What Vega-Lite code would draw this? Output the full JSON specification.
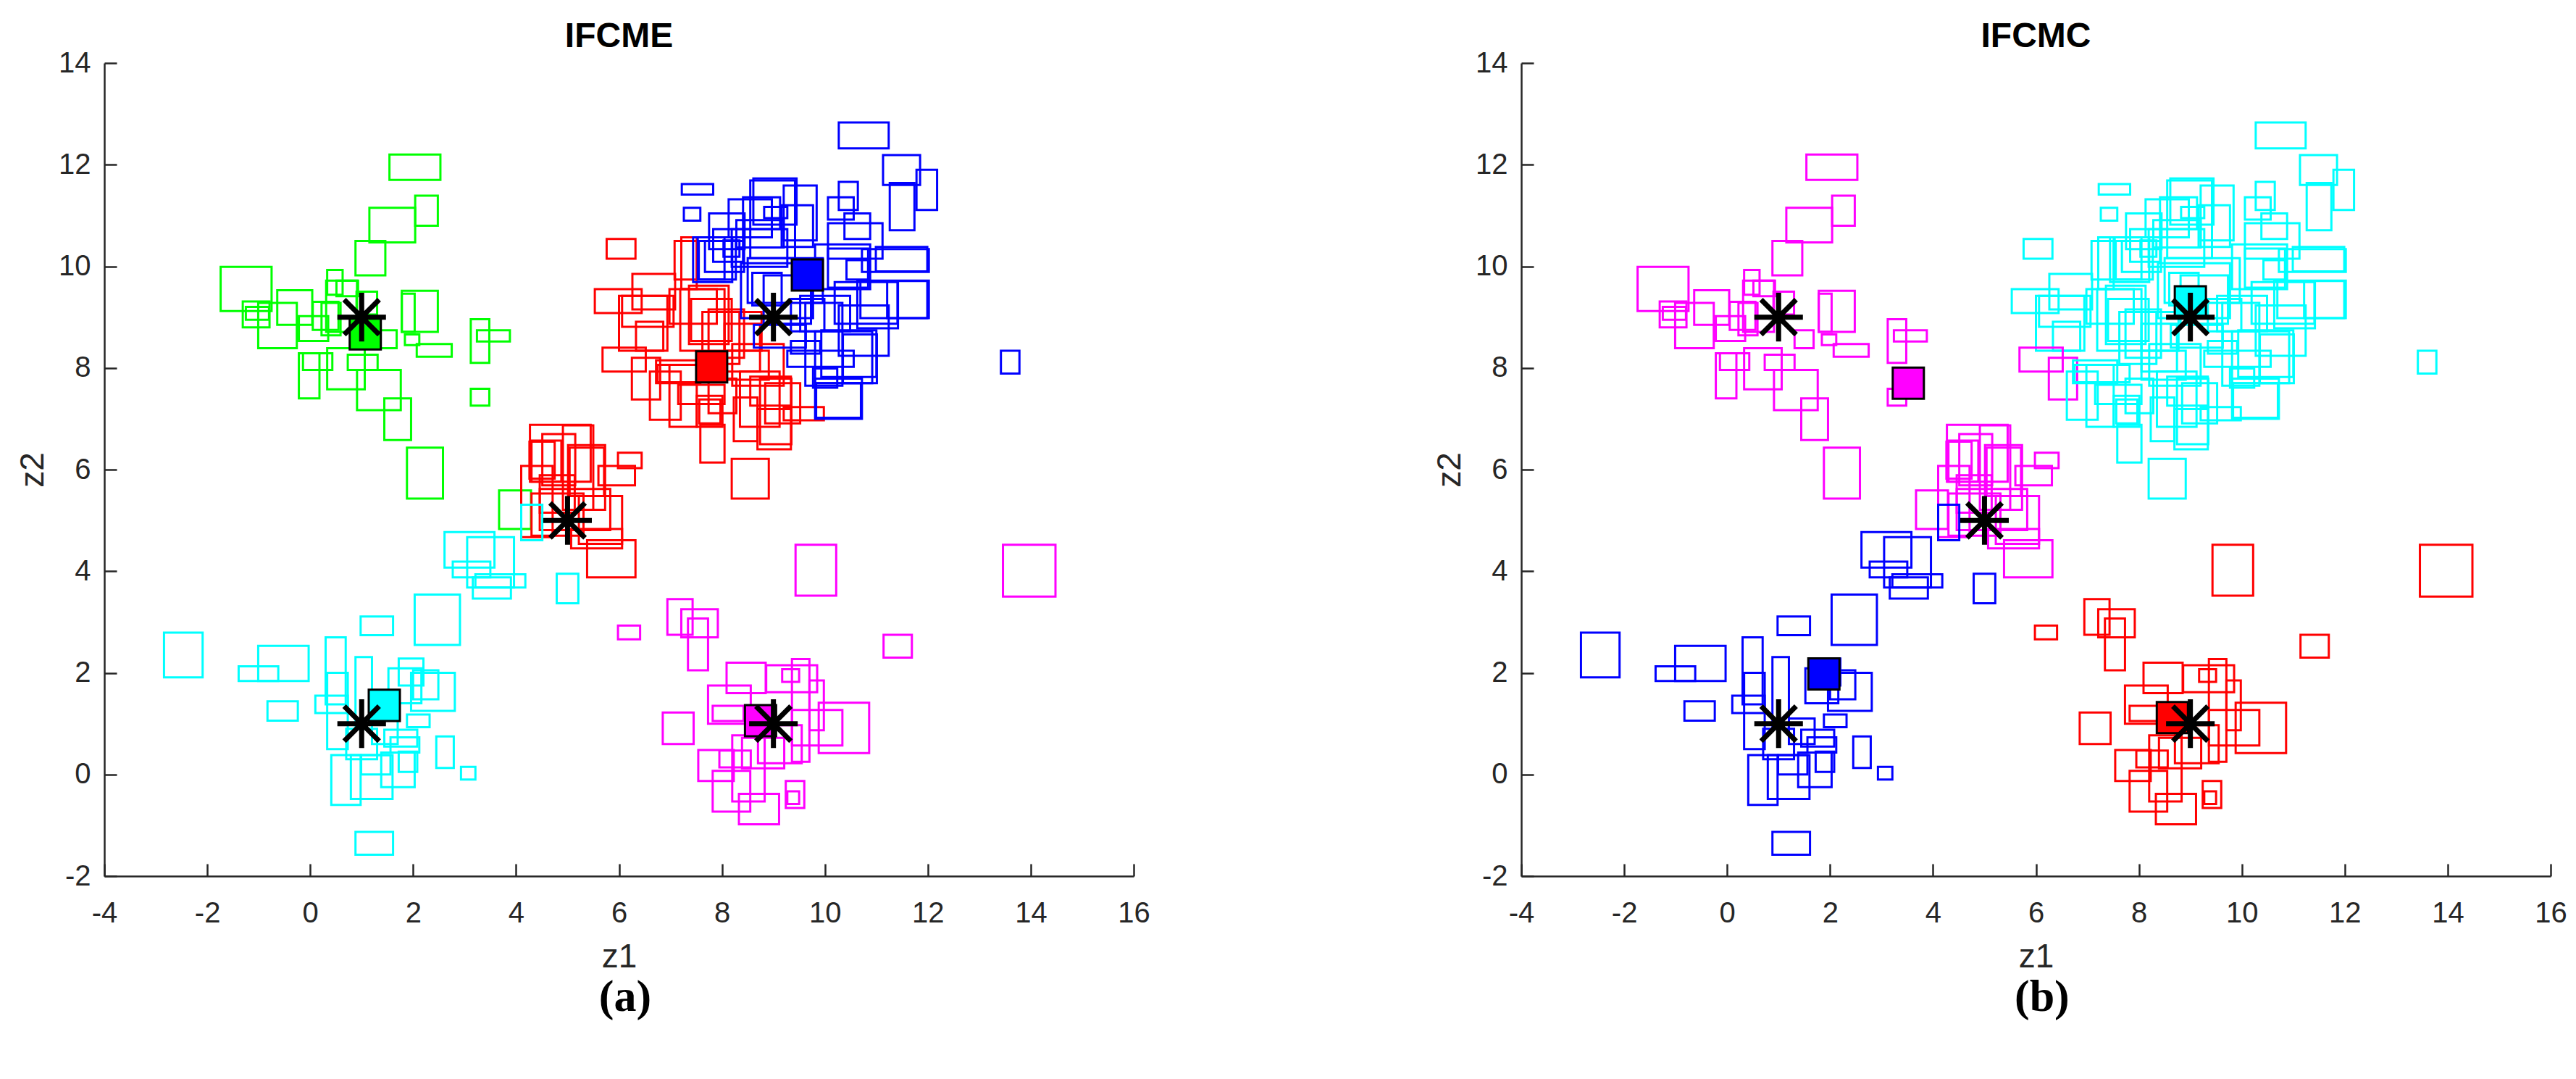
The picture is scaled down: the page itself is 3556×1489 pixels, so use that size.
{
  "$schema": "https://vega.github.io/schema/vega-lite/v6.json",
  "background": "white",
  "padding": {"left": 22, "top": 27, "right": 10, "bottom": 10},
  "config": {
    "view": {"stroke": null},
    "axis": {"grid": false, "domainColor": "#262626", "domainWidth": 2.5, "tickColor": "#262626", "tickWidth": 2.5, "tickSize": -17,
      "labelFont": "Liberation Sans", "labelFontSize": 40, "labelColor": "#262626", "labelFlush": false, "labelOverlap": false, "labelBound": false,
      "labelExpr": "'' + datum.value",
      "titleFont": "Liberation Sans", "titleFontSize": 46, "titleFontWeight": "normal", "titleColor": "#262626"},
    "axisX": {"labelPadding": 48, "titlePadding": 18},
    "axisY": {"labelPadding": 36, "titlePadding": 11}
  },
  "datasets": {
    "boxes": [
      {"x1":1.54,"x2":2.53,"y1":11.7,"y2":12.2,"a":1,"b":1},
      {"x1":2.04,"x2":2.48,"y1":10.8,"y2":11.39,"a":1,"b":1},
      {"x1":1.15,"x2":2.04,"y1":10.47,"y2":11.15,"a":1,"b":1},
      {"x1":0.88,"x2":1.46,"y1":9.82,"y2":10.5,"a":1,"b":1},
      {"x1":-1.74,"x2":-0.75,"y1":9.12,"y2":9.99,"a":1,"b":1},
      {"x1":-1.31,"x2":-0.79,"y1":8.8,"y2":9.31,"a":1,"b":1},
      {"x1":-0.64,"x2":0.04,"y1":8.85,"y2":9.53,"a":1,"b":1},
      {"x1":-1.01,"x2":-0.26,"y1":8.39,"y2":9.28,"a":1,"b":1},
      {"x1":-0.22,"x2":0.35,"y1":8.53,"y2":9.02,"a":1,"b":1},
      {"x1":0.31,"x2":0.91,"y1":8.71,"y2":9.72,"a":1,"b":1},
      {"x1":0.33,"x2":0.63,"y1":9.44,"y2":9.93,"a":1,"b":1},
      {"x1":0.51,"x2":0.93,"y1":9.41,"y2":9.72,"a":1,"b":1},
      {"x1":0.22,"x2":0.59,"y1":8.64,"y2":9.28,"a":1,"b":1},
      {"x1":1.31,"x2":1.68,"y1":8.39,"y2":8.74,"a":1,"b":1},
      {"x1":1.78,"x2":2.03,"y1":8.71,"y2":9.46,"a":1,"b":1},
      {"x1":1.78,"x2":2.48,"y1":8.71,"y2":9.52,"a":1,"b":1},
      {"x1":1.84,"x2":2.12,"y1":8.45,"y2":8.66,"a":1,"b":1},
      {"x1":2.07,"x2":2.75,"y1":8.22,"y2":8.47,"a":1,"b":1},
      {"x1":3.12,"x2":3.48,"y1":8.1,"y2":8.96,"a":1,"b":1},
      {"x1":3.24,"x2":3.88,"y1":8.52,"y2":8.74,"a":1,"b":1},
      {"x1":3.12,"x2":3.48,"y1":7.26,"y2":7.59,"a":1,"b":1},
      {"x1":-0.22,"x2":0.18,"y1":7.4,"y2":8.29,"a":1,"b":1},
      {"x1":-0.14,"x2":0.43,"y1":7.96,"y2":8.29,"a":1,"b":1},
      {"x1":0.33,"x2":1.06,"y1":7.58,"y2":8.39,"a":1,"b":1},
      {"x1":0.73,"x2":1.31,"y1":7.96,"y2":8.26,"a":1,"b":1},
      {"x1":0.91,"x2":1.76,"y1":7.17,"y2":7.96,"a":1,"b":1},
      {"x1":1.44,"x2":1.96,"y1":6.58,"y2":7.4,"a":1,"b":1},
      {"x1":1.88,"x2":2.58,"y1":5.43,"y2":6.43,"a":1,"b":1},
      {"x1":3.67,"x2":4.29,"y1":4.83,"y2":5.59,"a":1,"b":1},
      {"x1":-1.25,"x2":-0.8,"y1":8.95,"y2":9.2,"a":1,"b":1},
      {"x1":0.9,"x2":1.3,"y1":9.05,"y2":9.5,"a":1,"b":1},
      {"x1":0.05,"x2":0.55,"y1":8.75,"y2":9.3,"a":1,"b":1},
      {"x1":4.27,"x2":5.45,"y1":5.76,"y2":6.88,"a":2,"b":1},
      {"x1":4.91,"x2":5.5,"y1":5.21,"y2":6.87,"a":2,"b":1},
      {"x1":4.3,"x2":4.88,"y1":5.76,"y2":6.57,"a":2,"b":1},
      {"x1":5.04,"x2":5.71,"y1":5.48,"y2":6.43,"a":2,"b":1},
      {"x1":5.98,"x2":6.44,"y1":6.03,"y2":6.33,"a":2,"b":1},
      {"x1":5.6,"x2":6.31,"y1":5.69,"y2":6.07,"a":2,"b":1},
      {"x1":4.1,"x2":4.71,"y1":4.67,"y2":6.07,"a":2,"b":1},
      {"x1":4.46,"x2":5.83,"y1":4.81,"y2":5.62,"a":2,"b":1},
      {"x1":5.22,"x2":6.06,"y1":4.54,"y2":5.48,"a":2,"b":1},
      {"x1":5.07,"x2":6.06,"y1":4.45,"y2":4.83,"a":2,"b":1},
      {"x1":5.38,"x2":6.32,"y1":3.88,"y2":4.61,"a":2,"b":1},
      {"x1":4.46,"x2":5.14,"y1":5.15,"y2":5.89,"a":2,"b":1},
      {"x1":5.01,"x2":5.73,"y1":5.21,"y2":6.48,"a":2,"b":1},
      {"x1":4.51,"x2":5.15,"y1":5.69,"y2":6.7,"a":2,"b":1},
      {"x1":4.26,"x2":4.75,"y1":5.82,"y2":6.55,"a":2,"b":1},
      {"x1":4.3,"x2":5.31,"y1":4.7,"y2":5.53,"a":2,"b":1},
      {"x1":5.76,"x2":6.32,"y1":10.15,"y2":10.54,"a":2,"b":2},
      {"x1":5.53,"x2":6.44,"y1":9.08,"y2":9.55,"a":2,"b":2},
      {"x1":6.06,"x2":7.06,"y1":8.81,"y2":9.42,"a":2,"b":2},
      {"x1":6.26,"x2":7.09,"y1":9.15,"y2":9.85,"a":2,"b":2},
      {"x1":6.0,"x2":6.94,"y1":8.34,"y2":9.42,"a":2,"b":2},
      {"x1":6.33,"x2":6.86,"y1":8.34,"y2":8.91,"a":2,"b":2},
      {"x1":5.68,"x2":6.52,"y1":7.93,"y2":8.4,"a":2,"b":1},
      {"x1":6.25,"x2":6.8,"y1":7.38,"y2":8.2,"a":2,"b":1},
      {"x1":6.72,"x2":7.58,"y1":7.7,"y2":8.15,"a":2,"b":2},
      {"x1":6.98,"x2":7.51,"y1":6.84,"y2":8.06,"a":2,"b":2},
      {"x1":6.75,"x2":7.82,"y1":7.72,"y2":8.06,"a":2,"b":2},
      {"x1":7.08,"x2":7.51,"y1":9.74,"y2":10.5,"a":2,"b":2},
      {"x1":7.21,"x2":7.51,"y1":9.55,"y2":10.57,"a":2,"b":2},
      {"x1":7.19,"x2":8.05,"y1":8.34,"y2":9.55,"a":2,"b":2},
      {"x1":7.4,"x2":8.19,"y1":8.53,"y2":9.36,"a":2,"b":2},
      {"x1":7.62,"x2":8.34,"y1":8.08,"y2":9.1,"a":2,"b":2},
      {"x1":8.05,"x2":8.77,"y1":8.34,"y2":9.1,"a":2,"b":2},
      {"x1":7.36,"x2":8.13,"y1":8.47,"y2":9.62,"a":2,"b":2},
      {"x1":7.74,"x2":8.43,"y1":8.2,"y2":9.15,"a":2,"b":2},
      {"x1":8.05,"x2":8.74,"y1":7.93,"y2":8.87,"a":2,"b":2},
      {"x1":8.2,"x2":9.2,"y1":7.65,"y2":8.47,"a":2,"b":2},
      {"x1":7.15,"x2":8.05,"y1":7.29,"y2":7.67,"a":2,"b":2},
      {"x1":7.51,"x2":8.01,"y1":6.84,"y2":7.45,"a":2,"b":2},
      {"x1":7.58,"x2":8.05,"y1":6.14,"y2":6.88,"a":2,"b":2},
      {"x1":8.23,"x2":8.69,"y1":6.56,"y2":7.42,"a":2,"b":2},
      {"x1":8.69,"x2":9.34,"y1":6.4,"y2":7.19,"a":2,"b":2},
      {"x1":8.84,"x2":9.52,"y1":6.91,"y2":7.7,"a":2,"b":2},
      {"x1":8.19,"x2":8.91,"y1":5.43,"y2":6.21,"a":2,"b":2},
      {"x1":9.2,"x2":9.98,"y1":6.97,"y2":7.23,"a":2,"b":2},
      {"x1":8.55,"x2":9.34,"y1":7.26,"y2":7.83,"a":2,"b":2},
      {"x1":8.05,"x2":8.91,"y1":7.77,"y2":8.34,"a":2,"b":2},
      {"x1":7.74,"x2":8.28,"y1":7.11,"y2":7.79,"a":2,"b":2},
      {"x1":7.56,"x2":7.97,"y1":6.91,"y2":7.38,"a":2,"b":2},
      {"x1":8.74,"x2":9.35,"y1":6.5,"y2":7.79,"a":2,"b":2},
      {"x1":8.35,"x2":9.12,"y1":6.84,"y2":7.93,"a":2,"b":2},
      {"x1":6.6,"x2":7.2,"y1":6.98,"y2":7.93,"a":2,"b":2},
      {"x1":6.98,"x2":7.9,"y1":8.87,"y2":9.55,"a":2,"b":2},
      {"x1":10.27,"x2":11.24,"y1":12.32,"y2":12.83,"a":3,"b":2},
      {"x1":11.13,"x2":11.85,"y1":11.6,"y2":12.19,"a":3,"b":2},
      {"x1":11.78,"x2":12.18,"y1":11.11,"y2":11.9,"a":3,"b":2},
      {"x1":11.26,"x2":11.74,"y1":10.71,"y2":11.64,"a":3,"b":2},
      {"x1":7.22,"x2":7.83,"y1":11.41,"y2":11.62,"a":3,"b":2},
      {"x1":7.26,"x2":7.58,"y1":10.9,"y2":11.15,"a":3,"b":2},
      {"x1":8.61,"x2":9.45,"y1":10.82,"y2":11.73,"a":3,"b":2},
      {"x1":9.2,"x2":9.84,"y1":10.51,"y2":11.59,"a":3,"b":2},
      {"x1":10.27,"x2":10.64,"y1":11.11,"y2":11.66,"a":3,"b":2},
      {"x1":10.06,"x2":10.56,"y1":10.92,"y2":11.36,"a":3,"b":2},
      {"x1":7.75,"x2":8.44,"y1":10.34,"y2":11.04,"a":3,"b":2},
      {"x1":8.41,"x2":9.13,"y1":10.73,"y2":11.36,"a":3,"b":2},
      {"x1":8.82,"x2":9.27,"y1":10.95,"y2":11.17,"a":3,"b":2},
      {"x1":9.16,"x2":9.77,"y1":10.38,"y2":11.2,"a":3,"b":2},
      {"x1":10.38,"x2":10.88,"y1":10.54,"y2":11.04,"a":3,"b":2},
      {"x1":10.06,"x2":11.12,"y1":10.15,"y2":10.85,"a":3,"b":2},
      {"x1":10.99,"x2":11.99,"y1":9.9,"y2":10.38,"a":3,"b":2},
      {"x1":7.53,"x2":8.05,"y1":9.74,"y2":10.57,"a":3,"b":2},
      {"x1":7.83,"x2":8.41,"y1":10.09,"y2":10.73,"a":3,"b":2},
      {"x1":8.03,"x2":8.34,"y1":10.19,"y2":10.51,"a":3,"b":2},
      {"x1":8.19,"x2":9.27,"y1":9.99,"y2":10.73,"a":3,"b":2},
      {"x1":10.06,"x2":10.84,"y1":9.58,"y2":10.35,"a":3,"b":2},
      {"x1":10.42,"x2":10.84,"y1":9.74,"y2":10.12,"a":3,"b":2},
      {"x1":10.63,"x2":11.42,"y1":8.78,"y2":9.71,"a":3,"b":2},
      {"x1":11.21,"x2":11.99,"y1":8.98,"y2":9.71,"a":3,"b":2},
      {"x1":8.37,"x2":9.77,"y1":8.98,"y2":10.06,"a":3,"b":2},
      {"x1":8.59,"x2":9.16,"y1":9.23,"y2":9.87,"a":3,"b":2},
      {"x1":9.52,"x2":10.49,"y1":8.72,"y2":9.42,"a":3,"b":2},
      {"x1":10.27,"x2":11.24,"y1":8.24,"y2":9.23,"a":3,"b":2},
      {"x1":9.81,"x2":10.92,"y1":7.7,"y2":8.72,"a":3,"b":2},
      {"x1":10.35,"x2":11.01,"y1":7.7,"y2":8.66,"a":3,"b":2},
      {"x1":9.77,"x2":10.24,"y1":7.61,"y2":7.99,"a":3,"b":2},
      {"x1":9.83,"x2":10.7,"y1":7.02,"y2":7.7,"a":3,"b":2},
      {"x1":13.42,"x2":13.78,"y1":7.89,"y2":8.34,"a":3,"b":2},
      {"x1":8.62,"x2":9.63,"y1":8.4,"y2":8.85,"a":3,"b":2},
      {"x1":9.34,"x2":9.91,"y1":8.28,"y2":8.53,"a":3,"b":2},
      {"x1":9.27,"x2":10.56,"y1":8.02,"y2":8.34,"a":3,"b":2},
      {"x1":7.55,"x2":8.27,"y1":9.74,"y2":10.5,"a":3,"b":2},
      {"x1":9.34,"x2":9.99,"y1":8.72,"y2":9.36,"a":3,"b":2},
      {"x1":8.55,"x2":9.42,"y1":10.16,"y2":11.69,"a":3,"b":2},
      {"x1":8.13,"x2":8.97,"y1":10.57,"y2":11.32,"a":3,"b":2},
      {"x1":9.81,"x2":10.88,"y1":9.55,"y2":10.43,"a":3,"b":2},
      {"x1":10.72,"x2":12.02,"y1":9.89,"y2":10.34,"a":3,"b":2},
      {"x1":10.69,"x2":12.02,"y1":8.98,"y2":9.72,"a":3,"b":2},
      {"x1":10.19,"x2":11.41,"y1":8.87,"y2":9.69,"a":3,"b":2},
      {"x1":9.62,"x2":10.34,"y1":7.65,"y2":9.28,"a":3,"b":2},
      {"x1":9.93,"x2":11.0,"y1":7.82,"y2":8.74,"a":3,"b":2},
      {"x1":9.81,"x2":10.72,"y1":7.0,"y2":7.79,"a":3,"b":2},
      {"x1":8.81,"x2":9.73,"y1":8.87,"y2":9.82,"a":3,"b":2},
      {"x1":8.5,"x2":9.96,"y1":9.28,"y2":10.16,"a":3,"b":2},
      {"x1":8.28,"x2":9.2,"y1":10.37,"y2":10.91,"a":3,"b":2},
      {"x1":7.44,"x2":8.2,"y1":9.69,"y2":10.57,"a":3,"b":2},
      {"x1":7.67,"x2":8.43,"y1":9.89,"y2":10.5,"a":3,"b":2},
      {"x1":2.61,"x2":3.58,"y1":4.07,"y2":4.77,"a":4,"b":3},
      {"x1":3.05,"x2":3.96,"y1":3.68,"y2":4.67,"a":4,"b":3},
      {"x1":2.77,"x2":3.5,"y1":3.88,"y2":4.19,"a":4,"b":3},
      {"x1":3.21,"x2":4.18,"y1":3.68,"y2":3.94,"a":4,"b":3},
      {"x1":3.16,"x2":3.9,"y1":3.46,"y2":3.88,"a":4,"b":3},
      {"x1":4.79,"x2":5.21,"y1":3.37,"y2":3.95,"a":4,"b":3},
      {"x1":4.1,"x2":4.51,"y1":4.61,"y2":5.31,"a":4,"b":3},
      {"x1":-2.84,"x2":-2.09,"y1":1.91,"y2":2.79,"a":4,"b":3},
      {"x1":-1.39,"x2":-0.62,"y1":1.84,"y2":2.13,"a":4,"b":3},
      {"x1":-1.01,"x2":-0.03,"y1":1.84,"y2":2.53,"a":4,"b":3},
      {"x1":-0.83,"x2":-0.24,"y1":1.06,"y2":1.44,"a":4,"b":3},
      {"x1":0.3,"x2":0.69,"y1":1.38,"y2":2.7,"a":4,"b":3},
      {"x1":0.98,"x2":1.61,"y1":2.74,"y2":3.11,"a":4,"b":3},
      {"x1":2.03,"x2":2.91,"y1":2.55,"y2":3.54,"a":4,"b":3},
      {"x1":0.1,"x2":0.73,"y1":1.21,"y2":1.55,"a":4,"b":3},
      {"x1":0.33,"x2":0.73,"y1":0.5,"y2":2.0,"a":4,"b":3},
      {"x1":0.88,"x2":1.2,"y1":0.9,"y2":2.31,"a":4,"b":3},
      {"x1":1.52,"x2":2.16,"y1":1.4,"y2":2.09,"a":4,"b":3},
      {"x1":1.72,"x2":2.2,"y1":1.75,"y2":2.28,"a":4,"b":3},
      {"x1":2.0,"x2":2.49,"y1":1.48,"y2":2.05,"a":4,"b":3},
      {"x1":1.96,"x2":2.81,"y1":1.25,"y2":2.0,"a":4,"b":3},
      {"x1":1.88,"x2":2.32,"y1":0.93,"y2":1.18,"a":4,"b":3},
      {"x1":1.44,"x2":2.08,"y1":0.55,"y2":0.88,"a":4,"b":3},
      {"x1":1.56,"x2":2.12,"y1":0.43,"y2":0.73,"a":4,"b":3},
      {"x1":2.45,"x2":2.79,"y1":0.13,"y2":0.75,"a":4,"b":3},
      {"x1":2.93,"x2":3.21,"y1":-0.1,"y2":0.15,"a":4,"b":3},
      {"x1":0.41,"x2":0.98,"y1":-0.6,"y2":0.38,"a":4,"b":3},
      {"x1":0.79,"x2":1.6,"y1":-0.48,"y2":0.38,"a":4,"b":3},
      {"x1":0.99,"x2":1.56,"y1":0.0,"y2":0.38,"a":4,"b":3},
      {"x1":1.38,"x2":2.03,"y1":-0.25,"y2":0.43,"a":4,"b":3},
      {"x1":1.72,"x2":2.08,"y1":0.05,"y2":0.45,"a":4,"b":3},
      {"x1":0.88,"x2":1.61,"y1":-1.58,"y2":-1.13,"a":4,"b":3},
      {"x1":1.2,"x2":1.7,"y1":0.6,"y2":1.1,"a":4,"b":3},
      {"x1":0.7,"x2":1.3,"y1":0.3,"y2":0.9,"a":4,"b":3},
      {"x1":9.43,"x2":10.22,"y1":3.52,"y2":4.52,"a":5,"b":4},
      {"x1":13.46,"x2":14.48,"y1":3.5,"y2":4.52,"a":5,"b":4},
      {"x1":6.94,"x2":7.43,"y1":2.75,"y2":3.45,"a":5,"b":4},
      {"x1":7.21,"x2":7.92,"y1":2.7,"y2":3.25,"a":5,"b":4},
      {"x1":7.34,"x2":7.73,"y1":2.05,"y2":3.07,"a":5,"b":4},
      {"x1":11.14,"x2":11.69,"y1":2.3,"y2":2.75,"a":5,"b":4},
      {"x1":6.85,"x2":7.45,"y1":0.6,"y2":1.22,"a":5,"b":4},
      {"x1":8.09,"x2":8.85,"y1":1.6,"y2":2.2,"a":5,"b":4},
      {"x1":8.86,"x2":9.85,"y1":1.62,"y2":2.15,"a":5,"b":4},
      {"x1":9.17,"x2":9.5,"y1":1.82,"y2":2.07,"a":5,"b":4},
      {"x1":9.36,"x2":9.7,"y1":0.25,"y2":2.27,"a":5,"b":4},
      {"x1":9.7,"x2":9.98,"y1":0.87,"y2":1.85,"a":5,"b":4},
      {"x1":7.73,"x2":8.56,"y1":1.0,"y2":1.75,"a":5,"b":4},
      {"x1":7.82,"x2":8.42,"y1":1.05,"y2":1.35,"a":5,"b":4},
      {"x1":9.88,"x2":10.86,"y1":0.42,"y2":1.41,"a":5,"b":4},
      {"x1":9.36,"x2":10.34,"y1":0.57,"y2":1.27,"a":5,"b":4},
      {"x1":7.54,"x2":8.23,"y1":-0.13,"y2":0.48,"a":5,"b":4},
      {"x1":7.82,"x2":8.55,"y1":-0.73,"y2":0.07,"a":5,"b":4},
      {"x1":8.2,"x2":8.83,"y1":-0.53,"y2":0.77,"a":5,"b":4},
      {"x1":8.33,"x2":9.11,"y1":-0.98,"y2":-0.38,"a":5,"b":4},
      {"x1":9.24,"x2":9.6,"y1":-0.66,"y2":-0.13,"a":5,"b":4},
      {"x1":9.27,"x2":9.5,"y1":-0.58,"y2":-0.33,"a":5,"b":4},
      {"x1":7.95,"x2":8.56,"y1":0.14,"y2":0.47,"a":5,"b":4},
      {"x1":8.39,"x2":9.21,"y1":0.12,"y2":0.72,"a":5,"b":4},
      {"x1":8.7,"x2":9.55,"y1":0.22,"y2":0.97,"a":5,"b":4},
      {"x1":5.98,"x2":6.41,"y1":2.66,"y2":2.93,"a":5,"b":4}
    ],
    "centersA": [
      {"x":1.07,"y":8.67,"k":1},
      {"x":7.8,"y":8.02,"k":2},
      {"x":9.66,"y":9.83,"k":3},
      {"x":1.44,"y":1.36,"k":4},
      {"x":8.75,"y":1.06,"k":5}
    ],
    "centersB": [
      {"x":3.52,"y":7.7,"k":1},
      {"x":9.0,"y":9.3,"k":2},
      {"x":1.88,"y":1.98,"k":3},
      {"x":8.65,"y":1.12,"k":4}
    ],
    "truth": [
      {"x":1,"y":9},{"x":5,"y":5},{"x":9,"y":9},{"x":1,"y":1},{"x":9,"y":1}
    ]
  },
  "resolve": {"scale": {"color": "independent", "fill": "independent"}},
  "spacing": 390,
  "hconcat": [
    {
      "title": {"text": "(a)", "orient": "bottom", "anchor": "middle", "frame": "bounds", "dx": 58, "font": "Liberation Serif", "fontSize": 62, "fontWeight": "bold", "color": "#000000", "offset": 3},
      "vconcat": [
        {
          "width": 1421, "height": 1122,
          "title": {"text": "IFCME", "anchor": "middle", "frame": "group", "font": "Liberation Sans", "fontSize": 48, "fontWeight": "bold", "color": "#000000", "offset": -8},
          "layer": [
            {
              "data": {"name": "boxes"},
              "mark": {"type": "rect", "filled": false, "strokeWidth": 3},
              "encoding": {
                "x": {"field": "x1", "type": "quantitative", "scale": {"domain": [-4, 16], "nice": false, "zero": false}, "axis": {"values": [-4,-2,0,2,4,6,8,10,12,14,16], "title": "z1"}},
                "x2": {"field": "x2"},
                "y": {"field": "y1", "type": "quantitative", "scale": {"domain": [-2, 14], "nice": false, "zero": false}, "axis": {"values": [-2,0,2,4,6,8,10,12,14], "title": "z2"}},
                "y2": {"field": "y2"},
                "color": {"field": "a", "type": "nominal", "scale": {"domain": [1,2,3,4,5], "range": ["#00ff00", "#ff0000", "#0000ff", "#00ffff", "#ff00ff"]}, "legend": null}
              }
            },
            {
              "data": {"name": "centersA"},
              "mark": {"type": "point", "shape": "square", "filled": true, "size": 1850, "stroke": "#000000", "strokeWidth": 3, "opacity": 1},
              "encoding": {
                "x": {"field": "x", "type": "quantitative"},
                "y": {"field": "y", "type": "quantitative"},
                "fill": {"field": "k", "type": "nominal", "scale": {"domain": [1,2,3,4,5], "range": ["#00ff00", "#ff0000", "#0000ff", "#00ffff", "#ff00ff"]}, "legend": null}
              }
            },
            {
              "data": {"name": "truth"},
              "mark": {"type": "point", "shape": "M-1,0L1,0M0,-1L0,1M-0.72,-0.72L0.72,0.72M-0.72,0.72L0.72,-0.72", "filled": false, "size": 4500, "stroke": "#000000", "strokeWidth": 7, "opacity": 1},
              "encoding": {
                "x": {"field": "x", "type": "quantitative"},
                "y": {"field": "y", "type": "quantitative"}
              }
            }
          ]
        }
      ]
    },
    {
      "title": {"text": "(b)", "orient": "bottom", "anchor": "middle", "frame": "bounds", "dx": 58, "font": "Liberation Serif", "fontSize": 62, "fontWeight": "bold", "color": "#000000", "offset": 3},
      "vconcat": [
        {
          "width": 1421, "height": 1122,
          "title": {"text": "IFCMC", "anchor": "middle", "frame": "group", "font": "Liberation Sans", "fontSize": 48, "fontWeight": "bold", "color": "#000000", "offset": -8},
          "layer": [
            {
              "data": {"name": "boxes"},
              "mark": {"type": "rect", "filled": false, "strokeWidth": 3},
              "encoding": {
                "x": {"field": "x1", "type": "quantitative", "scale": {"domain": [-4, 16], "nice": false, "zero": false}, "axis": {"values": [-4,-2,0,2,4,6,8,10,12,14,16], "title": "z1"}},
                "x2": {"field": "x2"},
                "y": {"field": "y1", "type": "quantitative", "scale": {"domain": [-2, 14], "nice": false, "zero": false}, "axis": {"values": [-2,0,2,4,6,8,10,12,14], "title": "z2"}},
                "y2": {"field": "y2"},
                "color": {"field": "b", "type": "nominal", "scale": {"domain": [1,2,3,4], "range": ["#ff00ff", "#00ffff", "#0000ff", "#ff0000"]}, "legend": null}
              }
            },
            {
              "data": {"name": "centersB"},
              "mark": {"type": "point", "shape": "square", "filled": true, "size": 1850, "stroke": "#000000", "strokeWidth": 3, "opacity": 1},
              "encoding": {
                "x": {"field": "x", "type": "quantitative"},
                "y": {"field": "y", "type": "quantitative"},
                "fill": {"field": "k", "type": "nominal", "scale": {"domain": [1,2,3,4], "range": ["#ff00ff", "#00ffff", "#0000ff", "#ff0000"]}, "legend": null}
              }
            },
            {
              "data": {"name": "truth"},
              "mark": {"type": "point", "shape": "M-1,0L1,0M0,-1L0,1M-0.72,-0.72L0.72,0.72M-0.72,0.72L0.72,-0.72", "filled": false, "size": 4500, "stroke": "#000000", "strokeWidth": 7, "opacity": 1},
              "encoding": {
                "x": {"field": "x", "type": "quantitative"},
                "y": {"field": "y", "type": "quantitative"}
              }
            }
          ]
        }
      ]
    }
  ]
}
